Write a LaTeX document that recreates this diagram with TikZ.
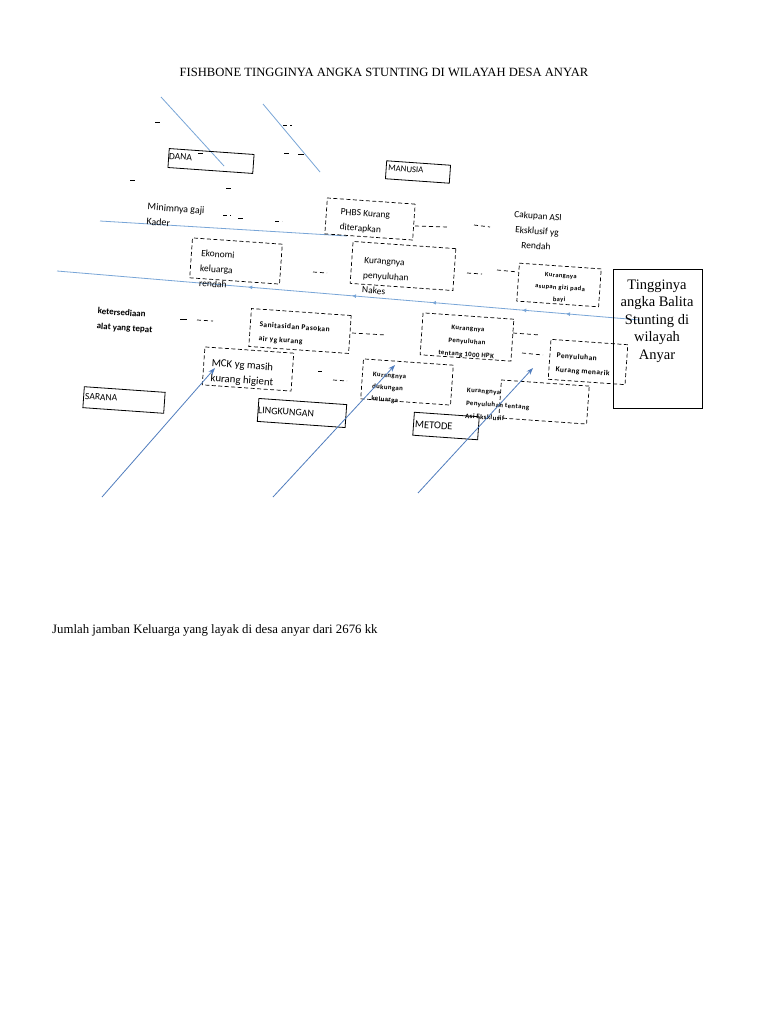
\documentclass[tikz,border=0pt]{standalone}
\usepackage{fontspec}
\setmainfont{Liberation Serif}
\newfontfamily\calfont{Carlito}
\newfontfamily\calspfont[LetterSpace=6]{Carlito}
\usetikzlibrary{arrows.meta,decorations.markings}
\definecolor{spineblue}{RGB}{120,165,215}
\definecolor{arrowblue}{RGB}{80,125,190}
\tikzset{
  dbox/.style={draw=black, line width=0.7pt, dash pattern=on 4pt off 2.5pt, rotate=-4, inner sep=0pt},
  lbox/.style={draw=black, line width=0.8pt, rotate=-4, inner sep=0pt},
  txt/.style={rotate=-4, inner sep=0pt, align=left, anchor=west, font=\calfont\fontsize{9.5}{15}\selectfont},
  ctxt/.style={rotate=-4, inner sep=0pt, align=center, font=\calfont\fontsize{9.5}{15}\selectfont},
  stxt/.style={rotate=-4, inner sep=0pt, align=left, anchor=west, font=\calspfont\bfseries\fontsize{6.8}{13}\selectfont},
  sctxt/.style={rotate=-4, inner sep=0pt, align=center, font=\calspfont\bfseries\fontsize{6.8}{13}\selectfont},
  captxt/.style={rotate=-4, inner sep=0pt, anchor=west, font=\calfont\fontsize{9.5}{10}\selectfont},
  bline/.style={draw=spineblue, line width=0.8pt},
  arr/.style={draw=arrowblue, line width=0.8pt, -{Stealth[length=7pt,width=5pt]}},
  frag/.style={draw=black, line width=0.7pt},
  dfrag/.style={draw=black, line width=0.7pt, dash pattern=on 4pt off 3pt}
}
\begin{document}
\begin{tikzpicture}[x=1pt,y=-1pt]
\path[fill=white] (0,0) rectangle (768,1024);
\useasboundingbox (0,0) rectangle (768,1024);

% title
\node[font=\fontsize{12.6}{14}\selectfont] (title) at (384,72) {FISHBONE TINGGINYA ANGKA STUNTING DI WILAYAH DESA ANYAR};

% blue lines
\coordinate (la0) at (161,97);  \coordinate (la1) at (224,166);
\coordinate (lb0) at (263,104); \coordinate (lb1) at (320,172);
\coordinate (lc0) at (100,221); \coordinate (lc1) at (347,236);
\coordinate (s0) at (57,271);   \coordinate (s1) at (640,320);
\draw[bline] (la0) -- (la1);
\draw[bline] (lb0) -- (lb1);
\draw[bline] (lc0) -- (lc1);
\draw[bline, postaction={decorate}, decoration={markings,
  mark=at position 0.328 with {\arrowreversed[spineblue]{Latex[length=4pt,width=4pt]}},
  mark=at position 0.506 with {\arrowreversed[spineblue]{Latex[length=4pt,width=4pt]}},
  mark=at position 0.643 with {\arrowreversed[spineblue]{Latex[length=4pt,width=4pt]}},
  mark=at position 0.798 with {\arrowreversed[spineblue]{Latex[length=4pt,width=4pt]}},
  mark=at position 0.873 with {\arrowreversed[spineblue]{Latex[length=4pt,width=4pt]}}}] (s0) -- (s1);

% category boxes
\node[lbox, minimum width=85pt, minimum height=19pt] (dana) at (211,161) {};
\node[captxt] (danat) at (169,156) {DANA};
\node[lbox, minimum width=64pt, minimum height=18pt] (manusia) at (418,172) {};
\node[captxt, font=\calfont\fontsize{8.8}{9}\selectfont] (manusiat) at (388,168) {MANUSIA};
\node[lbox, minimum width=81pt, minimum height=21pt] (sarana) at (124,400) {};
\node[captxt] (saranat) at (85,396) {SARANA};
\node[lbox, minimum width=88pt, minimum height=23pt] (lingk) at (302,413) {};
\node[captxt, font=\calfont\fontsize{10}{10}\selectfont] (lingkt) at (258,410) {LINGKUNGAN};
\node[lbox, minimum width=65pt, minimum height=23pt] (metode) at (446,426) {};
\node[captxt, font=\calfont\fontsize{10.5}{10}\selectfont] (metodet) at (415,424) {METODE};

% effect box
\node[draw=black, line width=0.8pt, minimum width=89pt, minimum height=139pt, inner sep=0pt] (head) at (657.5,338.5) {};
\node[align=center, inner sep=0pt, font=\fontsize{14.5}{17.5}\selectfont] (headt) at (657,321) {Tingginya\\angka Balita\\Stunting di\\wilayah\\Anyar};

% cause texts and boxes
\node[txt, font=\calfont\fontsize{10}{15}\selectfont] (minim) at (147,214) {Minimnya gaji\\Kader};
\node[dbox, minimum width=88pt, minimum height=36pt] (phbs) at (370,219) {};
\node[txt] (phbst) at (340,220) {PHBS Kurang\\diterapkan};
\node[ctxt] (cakupan) at (537,231) {Cakupan ASI\\Eksklusif yg\\Rendah};
\node[dbox, minimum width=90pt, minimum height=40pt] (ekonomi) at (236,261) {};
\node[txt] (ekonomit) at (200,268) {Ekonomi\\keluarga\\rendah};
\node[dbox, minimum width=103pt, minimum height=42pt] (nakes) at (403,266) {};
\node[txt] (nakest) at (363,275) {Kurangnya\\penyuluhan\\Nakes};
\node[dbox, minimum width=82pt, minimum height=38pt] (asupan) at (559,285) {};
\node[sctxt, font=\calspfont\bfseries\fontsize{6.5}{12}\selectfont] (asupant) at (560,288) {Kurangnya\\asupan gizi pada\\bayi};
\node[txt, font=\calfont\bfseries\fontsize{9}{15}\selectfont] (keters) at (97,319) {ketersediaan\\alat yang tepat};
\node[dbox, minimum width=100pt, minimum height=38pt] (sanit) at (300,331) {};
\node[stxt, font=\calspfont\bfseries\fontsize{7.4}{14}\selectfont] (sanitt) at (259,332) {Sanitasidan Pasokan\\air yg kurang};
\node[dbox, minimum width=91pt, minimum height=42pt] (hpk) at (467,337) {};
\node[sctxt] (hpkt) at (467,342) {Kurangnya\\Penyuluhan\\tentang 1000 HPK};
\node[dbox, minimum width=77pt, minimum height=40pt] (menarik) at (588,362) {};
\node[stxt, font=\calspfont\bfseries\fontsize{7.4}{14}\selectfont] (menarikt) at (556,363) {Penyuluhan\\Kurang menarik};
\node[dbox, minimum width=89pt, minimum height=38pt] (mck) at (248,369) {};
\node[txt, font=\calfont\fontsize{10.8}{15}\selectfont] (mckt) at (211,371) {MCK yg masih\\kurang higient};
\node[dbox, minimum width=90pt, minimum height=40pt] (dukung) at (407,382) {};
\node[stxt, font=\calspfont\bfseries\fontsize{6.8}{12}\selectfont] (dukungt) at (372,387) {Kurangnya\\dukungan\\keluarga};
\node[dbox, minimum width=88pt, minimum height=38pt] (asi) at (544,402) {};
\node[stxt] (asit) at (466,403) {Kurangnya\\Penyuluhan tentang\\Asi Eksklusif};

% blue arrows
\coordinate (a1s) at (102,497); \coordinate (a1t) at (215,368);
\coordinate (a2s) at (273,497); \coordinate (a2t) at (395,365);
\coordinate (a3s) at (418,493); \coordinate (a3t) at (533,368);
\draw[arr] (a1s) -- (a1t);
\draw[arr] (a2s) -- (a2t);
\draw[arr] (a3s) -- (a3t);

% scattered dash fragments
\coordinate (f1a) at (155,122); \coordinate (f1b) at (160,122);
\draw[frag] (f1a) -- (f1b);
\coordinate (f2a) at (283,125); \coordinate (f2b) at (292,125);
\draw[dfrag] (f2a) -- (f2b);
\coordinate (f3a) at (284,153); \coordinate (f3b) at (289,153);
\draw[frag] (f3a) -- (f3b);
\coordinate (f4a) at (298,154); \coordinate (f4b) at (304,154);
\draw[frag] (f4a) -- (f4b);
\coordinate (f5a) at (198,153); \coordinate (f5b) at (203,153);
\draw[frag] (f5a) -- (f5b);
\coordinate (f6a) at (130,180); \coordinate (f6b) at (135,180);
\draw[frag] (f6a) -- (f6b);
\coordinate (f7a) at (226,188); \coordinate (f7b) at (231,188);
\draw[frag] (f7a) -- (f7b);
\coordinate (f8a) at (223,215); \coordinate (f8b) at (231,215);
\draw[dfrag] (f8a) -- (f8b);
\coordinate (f9a) at (238,218); \coordinate (f9b) at (243,218);
\draw[frag] (f9a) -- (f9b);
\coordinate (f10a) at (275,221); \coordinate (f10b) at (282,221);
\draw[dfrag] (f10a) -- (f10b);
\coordinate (f11a) at (415,226); \coordinate (f11b) at (447,227);
\draw[dfrag] (f11a) -- (f11b);
\coordinate (f12a) at (474,225); \coordinate (f12b) at (490,227);
\draw[dfrag] (f12a) -- (f12b);
\coordinate (f13a) at (313,272); \coordinate (f13b) at (327,273);
\draw[dfrag] (f13a) -- (f13b);
\coordinate (f14a) at (467,273); \coordinate (f14b) at (482,274);
\draw[dfrag] (f14a) -- (f14b);
\coordinate (f15a) at (497,270); \coordinate (f15b) at (518,272);
\draw[dfrag] (f15a) -- (f15b);
\coordinate (f16a) at (180,319); \coordinate (f16b) at (187,319);
\draw[frag] (f16a) -- (f16b);
\coordinate (f17a) at (197,320); \coordinate (f17b) at (213,321);
\draw[dfrag] (f17a) -- (f17b);
\coordinate (f18a) at (352,333); \coordinate (f18b) at (386,335);
\draw[dfrag] (f18a) -- (f18b);
\coordinate (f19a) at (513,333); \coordinate (f19b) at (540,335);
\draw[dfrag] (f19a) -- (f19b);
\coordinate (f20a) at (522,353); \coordinate (f20b) at (543,355);
\draw[dfrag] (f20a) -- (f20b);
\coordinate (f21a) at (318,371); \coordinate (f21b) at (322,371);
\draw[frag] (f21a) -- (f21b);
\coordinate (f22a) at (333,380); \coordinate (f22b) at (347,381);
\draw[dfrag] (f22a) -- (f22b);

% bottom note
\node[anchor=base west, inner sep=0pt, font=\fontsize{12.8}{14}\selectfont] (note) at (52,633) {Jumlah jamban Keluarga yang layak di desa anyar dari 2676 kk};
\end{tikzpicture}
\end{document}
